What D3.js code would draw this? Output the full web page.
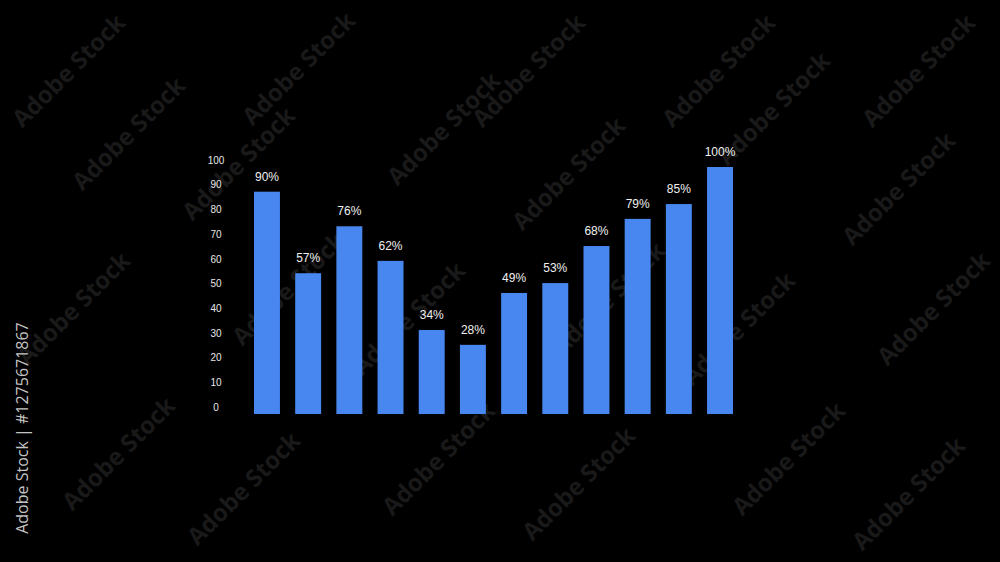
<!DOCTYPE html>
<html>
<head>
<meta charset="utf-8">
<script src="https://cdn.jsdelivr.net/npm/d3@7"></script>
<style>
  html, body { margin: 0; padding: 0; background: #000; }
  svg { display: block; }
</style>
</head>
<body>
<svg id="chart" width="1000" height="562"></svg>
<script>
// ---- data ----
const categories = ["1","2","3","4","5","6","7","8","9","10","11","12"];
const values = [90, 57, 76, 62, 34, 28, 49, 53, 68, 79, 85, 100];
const valueLabels = ["90%","57%","76%","62%","34%","28%","49%","53%","68%","79%","85%","100%"];
const tickValues = [0, 10, 20, 30, 40, 50, 60, 70, 80, 90, 100];
const watermarkText = "Adobe Stock";
const creditText = "Adobe Stock | #1275671867";

// ---- layout ----
const svg = d3.select("#chart");
svg.append("rect").attr("width", 1000).attr("height", 562).attr("fill", "#000");

// faint diagonal watermarks (decorative)
const wmPositions = [
  [70,72],[300,70],[530,72],[720,72],[920,72],
  [130,135],[240,165],[445,130],[570,175],[775,110],[900,190],
  [75,310],[290,290],[410,320],[610,300],[740,330],[935,310],
  [120,455],[245,490],[440,460],[580,485],[790,460],[910,495]
];
svg.append("g").selectAll("text").data(wmPositions).join("text")
  .attr("transform", d => `translate(${d[0]},${d[1]}) rotate(-45)`)
  .attr("text-anchor", "middle")
  .attr("dominant-baseline", "middle")
  .attr("font-family", "'Open Sans', sans-serif")
  .attr("font-weight", 700)
  .attr("font-size", 24)
  .attr("fill", "#191919")
  .text(watermarkText);

const x = d3.scaleBand().domain(categories).range([254, 733]).paddingInner(0.37).paddingOuter(0);
const y = d3.scaleLinear().domain([0, 100]).range([414, 167]);

// y tick labels (no axis line)
const yAxis = d3.axisLeft(y).tickValues(tickValues).tickSize(0).tickPadding(0);
const gy = svg.append("g").attr("transform", "translate(216,-7)").call(yAxis);
gy.select(".domain").remove();
gy.selectAll("text")
  .attr("text-anchor", "middle")
  .attr("x", 0)
  .attr("font-family", "'Liberation Sans', Arial, sans-serif")
  .attr("font-size", 10)
  .attr("fill", "#e6e6e6");

// bars
svg.append("g").selectAll("rect").data(values).join("rect")
  .attr("x", (d, i) => x(categories[i]))
  .attr("y", d => y(d))
  .attr("width", x.bandwidth())
  .attr("height", d => y(0) - y(d))
  .attr("fill", "#4787ef");

// value labels
svg.append("g").selectAll("text").data(values).join("text")
  .attr("x", (d, i) => x(categories[i]) + x.bandwidth() / 2)
  .attr("y", d => y(d) - 11)
  .attr("text-anchor", "middle")
  .attr("font-family", "'Liberation Sans', Arial, sans-serif")
  .attr("font-size", 12)
  .attr("fill", "#f0f0f0")
  .text((d, i) => valueLabels[i]);

// vertical credit text
svg.append("text")
  .attr("transform", "translate(28,428) rotate(-90)")
  .attr("text-anchor", "middle")
  .attr("font-family", "'Open Sans', sans-serif")
  .attr("font-size", 16)
  .attr("fill", "#c4c4c4")
  .text(creditText);
</script>
</body>
</html>
